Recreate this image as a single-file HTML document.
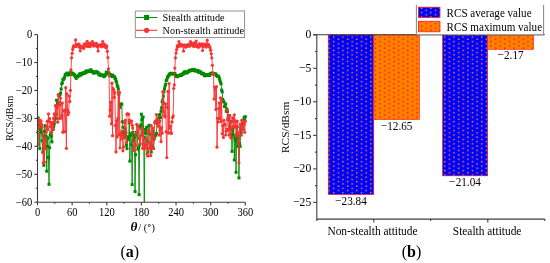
<!DOCTYPE html>
<html><head><meta charset="utf-8"><style>
html,body{margin:0;padding:0;background:#fff;}
body{width:550px;height:263px;overflow:hidden;}
svg{display:block;}
text{font-family:"Liberation Serif","Times New Roman",serif;fill:#000;stroke:none;}
.tl{font-size:10.5px;}
.tb{font-size:11.6px;}
.tv{font-size:11.2px;}
.lg{font-size:10.3px;}
.lg2{font-size:11.1px;}
</style></head><body>
<svg width="550" height="263" viewBox="0 0 550 263">
<defs>
<pattern id="pb" patternUnits="userSpaceOnUse" x="0" y="0" width="9.25" height="4.45">
<rect width="9.25" height="4.45" fill="#0000ff"/>
<rect x="4.6" y="3.0" width="1.5" height="1.4" fill="#ff8a10"/>
<rect x="-0.05" y="0.75" width="1.5" height="1.4" fill="#ff8a10"/>
<rect x="9.2" y="0.75" width="1.5" height="1.4" fill="#ff8a10"/>
</pattern>
<pattern id="po" patternUnits="userSpaceOnUse" x="0" y="0" width="9.25" height="4.45">
<rect width="9.25" height="4.45" fill="#ff8000"/>
<rect x="4.6" y="3.0" width="1.5" height="1.4" fill="#ff1a00"/>
<rect x="-0.05" y="0.75" width="1.5" height="1.4" fill="#ff1a00"/>
<rect x="9.2" y="0.75" width="1.5" height="1.4" fill="#ff1a00"/>
</pattern>
</defs>
<g id="leftplot">
<clipPath id="cl"><rect x="37.5" y="0" width="210.8" height="202.2"/></clipPath>
<g clip-path="url(#cl)">
<polyline points="37.50,118.40 38.08,117.84 38.65,122.03 39.23,125.66 39.81,148.57 40.39,129.01 40.96,124.55 41.54,132.37 42.12,140.75 42.70,152.20 43.27,135.16 43.85,165.33 44.43,131.25 45.00,125.66 45.58,140.75 46.16,136.28 46.74,171.19 47.31,146.33 47.89,137.95 48.47,157.51 49.04,184.32 49.62,147.73 50.20,135.16 50.78,132.37 51.35,136.28 51.93,141.86 52.51,123.15 53.09,129.57 53.66,126.78 54.24,123.99 54.82,118.40 55.39,118.27 55.97,114.54 56.55,100.24 57.13,105.55 57.70,104.20 58.28,103.19 58.86,95.74 59.43,95.03 60.01,94.34 60.59,93.06 61.17,88.91 61.74,83.92 62.32,82.70 62.90,79.47 63.48,79.32 64.05,78.63 64.63,77.04 65.21,74.67 65.78,74.33 66.36,74.21 66.94,73.12 67.52,74.27 68.09,74.94 68.67,74.72 69.25,74.41 69.82,72.98 70.40,72.69 70.98,74.45 71.56,73.02 72.13,73.19 72.71,73.52 73.29,74.21 73.87,74.34 74.44,74.91 75.02,76.41 75.60,76.70 76.17,78.41 76.75,77.02 77.33,76.67 77.91,75.88 78.48,75.29 79.06,76.04 79.64,74.00 80.21,74.98 80.79,73.45 81.37,74.74 81.95,73.38 82.52,73.71 83.10,72.92 83.68,73.03 84.25,73.32 84.83,73.02 85.41,72.16 85.99,70.95 86.56,72.05 87.14,71.85 87.72,71.56 88.30,70.87 88.87,71.12 89.45,71.49 90.03,70.39 90.60,69.99 91.18,70.15 91.76,71.71 92.34,71.63 92.91,71.95 93.49,73.14 94.07,71.96 94.65,72.24 95.22,72.93 95.80,71.82 96.38,72.03 96.95,72.17 97.53,72.36 98.11,72.58 98.69,74.42 99.26,74.70 99.84,73.98 100.42,75.27 100.99,75.38 101.57,75.37 102.15,74.92 102.73,75.29 103.30,75.65 103.88,76.71 104.46,76.18 105.04,75.23 105.61,74.73 106.19,72.80 106.77,72.00 107.34,73.04 107.92,72.25 108.50,73.21 109.08,73.15 109.65,74.82 110.23,74.57 110.81,75.30 111.38,75.93 111.96,76.42 112.54,75.07 113.12,76.14 113.69,76.59 114.27,76.46 114.85,78.02 115.42,78.78 116.00,80.95 116.58,82.18 117.16,85.13 117.73,86.56 118.31,88.89 118.89,94.45 119.47,104.43 120.04,107.44 120.62,104.57 121.20,103.95 121.77,104.27 122.35,121.82 122.93,127.20 123.51,132.58 124.08,134.90 124.66,136.43 125.24,129.00 125.81,132.53 126.39,145.21 126.97,148.64 127.55,139.47 128.12,136.72 128.70,137.29 129.28,122.68 129.86,161.14 130.43,133.70 131.01,135.16 131.59,144.92 132.16,184.60 132.74,132.33 133.32,140.75 133.90,135.31 134.47,137.72 135.05,191.59 135.63,154.71 136.21,132.35 136.78,135.16 137.36,132.74 137.94,149.13 138.51,147.73 139.09,194.66 139.67,144.94 140.25,126.78 140.82,124.94 141.40,114.21 141.98,119.71 142.55,132.37 143.13,117.00 143.71,132.72 144.29,207.79 144.86,137.86 145.44,129.57 146.02,133.34 146.60,127.23 147.17,141.10 147.75,152.12 148.33,131.00 148.90,125.66 149.48,125.29 150.06,134.14 150.64,147.92 151.21,152.11 151.79,146.05 152.37,135.01 152.94,131.08 153.52,148.32 154.10,139.03 154.68,136.83 155.25,135.02 155.83,135.19 156.41,133.42 156.99,123.14 157.56,121.31 158.14,118.61 158.72,121.88 159.29,115.33 159.87,114.44 160.45,117.53 161.03,111.11 161.60,107.82 162.18,101.84 162.76,99.99 163.33,96.24 163.91,91.91 164.49,88.82 165.07,86.11 165.64,84.33 166.22,80.56 166.80,80.00 167.38,77.83 167.95,76.46 168.53,75.74 169.11,74.97 169.68,74.16 170.26,73.50 170.84,73.65 171.42,73.18 171.99,73.78 172.57,73.59 173.15,73.82 173.72,73.94 174.30,73.75 174.88,73.48 175.46,75.23 176.03,76.35 176.61,76.23 177.19,76.71 177.77,76.03 178.34,75.62 178.92,75.49 179.50,75.72 180.07,75.18 180.65,74.99 181.23,75.48 181.81,74.49 182.38,74.11 182.96,73.89 183.54,73.81 184.11,72.22 184.69,72.11 185.27,71.80 185.85,72.58 186.42,73.06 187.00,72.61 187.58,71.90 188.16,71.82 188.73,71.50 189.31,70.40 189.89,70.23 190.46,70.86 191.04,70.55 191.62,70.40 192.20,69.59 192.77,70.15 193.35,69.97 193.93,69.43 194.50,69.80 195.08,70.71 195.66,71.00 196.24,70.74 196.81,70.51 197.39,70.30 197.97,71.02 198.55,72.33 199.12,71.16 199.70,71.64 200.28,71.94 200.85,72.32 201.43,73.57 202.01,73.76 202.59,73.62 203.16,73.22 203.74,73.91 204.32,75.52 204.89,75.82 205.47,75.31 206.05,74.65 206.63,74.97 207.20,75.12 207.78,75.43 208.36,75.15 208.94,74.62 209.51,75.50 210.09,74.13 210.67,73.44 211.24,73.61 211.82,73.15 212.40,73.15 212.98,73.81 213.55,73.89 214.13,74.06 214.71,73.84 215.28,74.25 215.86,74.06 216.44,75.64 217.02,75.67 217.59,76.31 218.17,76.57 218.75,76.34 219.32,78.30 219.90,80.35 220.48,82.22 221.06,83.84 221.63,90.07 222.21,91.86 222.79,99.47 223.37,101.41 223.94,101.95 224.52,106.36 225.10,106.45 225.67,103.99 226.25,111.25 226.83,108.94 227.41,111.53 227.98,119.66 228.56,119.34 229.14,115.61 229.72,126.78 230.29,122.03 230.87,129.57 231.45,134.60 232.02,151.36 232.60,129.57 233.18,135.16 233.76,126.78 234.33,160.02 234.91,137.95 235.49,140.75 236.06,172.31 236.64,135.16 237.22,126.78 237.80,146.33 238.37,137.95 238.95,177.90 239.53,143.54 240.11,146.33 240.68,129.57 241.26,132.37 241.84,126.78 242.41,122.59 242.99,120.08 243.57,123.99 244.15,117.28 244.72,119.80 245.30,116.72" fill="none" stroke="#008a00" stroke-width="0.9"/>
<g fill="#008a00"><rect x="36.00" y="116.90" width="3" height="3"/><rect x="36.58" y="116.34" width="3" height="3"/><rect x="37.15" y="120.53" width="3" height="3"/><rect x="37.73" y="124.16" width="3" height="3"/><rect x="38.31" y="147.07" width="3" height="3"/><rect x="38.89" y="127.51" width="3" height="3"/><rect x="39.46" y="123.05" width="3" height="3"/><rect x="40.04" y="130.87" width="3" height="3"/><rect x="40.62" y="139.25" width="3" height="3"/><rect x="41.20" y="150.70" width="3" height="3"/><rect x="41.77" y="133.66" width="3" height="3"/><rect x="42.35" y="163.83" width="3" height="3"/><rect x="42.93" y="129.75" width="3" height="3"/><rect x="43.50" y="124.16" width="3" height="3"/><rect x="44.08" y="139.25" width="3" height="3"/><rect x="44.66" y="134.78" width="3" height="3"/><rect x="45.24" y="169.69" width="3" height="3"/><rect x="45.81" y="144.83" width="3" height="3"/><rect x="46.39" y="136.45" width="3" height="3"/><rect x="46.97" y="156.01" width="3" height="3"/><rect x="47.54" y="182.82" width="3" height="3"/><rect x="48.12" y="146.23" width="3" height="3"/><rect x="48.70" y="133.66" width="3" height="3"/><rect x="49.28" y="130.87" width="3" height="3"/><rect x="49.85" y="134.78" width="3" height="3"/><rect x="50.43" y="140.36" width="3" height="3"/><rect x="51.01" y="121.65" width="3" height="3"/><rect x="51.59" y="128.07" width="3" height="3"/><rect x="52.16" y="125.28" width="3" height="3"/><rect x="52.74" y="122.49" width="3" height="3"/><rect x="53.32" y="116.90" width="3" height="3"/><rect x="53.89" y="116.77" width="3" height="3"/><rect x="54.47" y="113.04" width="3" height="3"/><rect x="55.05" y="98.74" width="3" height="3"/><rect x="55.63" y="104.05" width="3" height="3"/><rect x="56.20" y="102.70" width="3" height="3"/><rect x="56.78" y="101.69" width="3" height="3"/><rect x="57.36" y="94.24" width="3" height="3"/><rect x="57.93" y="93.53" width="3" height="3"/><rect x="58.51" y="92.84" width="3" height="3"/><rect x="59.09" y="91.56" width="3" height="3"/><rect x="59.67" y="87.41" width="3" height="3"/><rect x="60.24" y="82.42" width="3" height="3"/><rect x="60.82" y="81.20" width="3" height="3"/><rect x="61.40" y="77.97" width="3" height="3"/><rect x="61.98" y="77.82" width="3" height="3"/><rect x="62.55" y="77.13" width="3" height="3"/><rect x="63.13" y="75.54" width="3" height="3"/><rect x="63.71" y="73.17" width="3" height="3"/><rect x="64.28" y="72.83" width="3" height="3"/><rect x="64.86" y="72.71" width="3" height="3"/><rect x="65.44" y="71.62" width="3" height="3"/><rect x="66.02" y="72.77" width="3" height="3"/><rect x="66.59" y="73.44" width="3" height="3"/><rect x="67.17" y="73.22" width="3" height="3"/><rect x="67.75" y="72.91" width="3" height="3"/><rect x="68.32" y="71.48" width="3" height="3"/><rect x="68.90" y="71.19" width="3" height="3"/><rect x="69.48" y="72.95" width="3" height="3"/><rect x="70.06" y="71.52" width="3" height="3"/><rect x="70.63" y="71.69" width="3" height="3"/><rect x="71.21" y="72.02" width="3" height="3"/><rect x="71.79" y="72.71" width="3" height="3"/><rect x="72.37" y="72.84" width="3" height="3"/><rect x="72.94" y="73.41" width="3" height="3"/><rect x="73.52" y="74.91" width="3" height="3"/><rect x="74.10" y="75.20" width="3" height="3"/><rect x="74.67" y="76.91" width="3" height="3"/><rect x="75.25" y="75.52" width="3" height="3"/><rect x="75.83" y="75.17" width="3" height="3"/><rect x="76.41" y="74.38" width="3" height="3"/><rect x="76.98" y="73.79" width="3" height="3"/><rect x="77.56" y="74.54" width="3" height="3"/><rect x="78.14" y="72.50" width="3" height="3"/><rect x="78.71" y="73.48" width="3" height="3"/><rect x="79.29" y="71.95" width="3" height="3"/><rect x="79.87" y="73.24" width="3" height="3"/><rect x="80.45" y="71.88" width="3" height="3"/><rect x="81.02" y="72.21" width="3" height="3"/><rect x="81.60" y="71.42" width="3" height="3"/><rect x="82.18" y="71.53" width="3" height="3"/><rect x="82.75" y="71.82" width="3" height="3"/><rect x="83.33" y="71.52" width="3" height="3"/><rect x="83.91" y="70.66" width="3" height="3"/><rect x="84.49" y="69.45" width="3" height="3"/><rect x="85.06" y="70.55" width="3" height="3"/><rect x="85.64" y="70.35" width="3" height="3"/><rect x="86.22" y="70.06" width="3" height="3"/><rect x="86.80" y="69.37" width="3" height="3"/><rect x="87.37" y="69.62" width="3" height="3"/><rect x="87.95" y="69.99" width="3" height="3"/><rect x="88.53" y="68.89" width="3" height="3"/><rect x="89.10" y="68.49" width="3" height="3"/><rect x="89.68" y="68.65" width="3" height="3"/><rect x="90.26" y="70.21" width="3" height="3"/><rect x="90.84" y="70.13" width="3" height="3"/><rect x="91.41" y="70.45" width="3" height="3"/><rect x="91.99" y="71.64" width="3" height="3"/><rect x="92.57" y="70.46" width="3" height="3"/><rect x="93.15" y="70.74" width="3" height="3"/><rect x="93.72" y="71.43" width="3" height="3"/><rect x="94.30" y="70.32" width="3" height="3"/><rect x="94.88" y="70.53" width="3" height="3"/><rect x="95.45" y="70.67" width="3" height="3"/><rect x="96.03" y="70.86" width="3" height="3"/><rect x="96.61" y="71.08" width="3" height="3"/><rect x="97.19" y="72.92" width="3" height="3"/><rect x="97.76" y="73.20" width="3" height="3"/><rect x="98.34" y="72.48" width="3" height="3"/><rect x="98.92" y="73.77" width="3" height="3"/><rect x="99.49" y="73.88" width="3" height="3"/><rect x="100.07" y="73.87" width="3" height="3"/><rect x="100.65" y="73.42" width="3" height="3"/><rect x="101.23" y="73.79" width="3" height="3"/><rect x="101.80" y="74.15" width="3" height="3"/><rect x="102.38" y="75.21" width="3" height="3"/><rect x="102.96" y="74.68" width="3" height="3"/><rect x="103.54" y="73.73" width="3" height="3"/><rect x="104.11" y="73.23" width="3" height="3"/><rect x="104.69" y="71.30" width="3" height="3"/><rect x="105.27" y="70.50" width="3" height="3"/><rect x="105.84" y="71.54" width="3" height="3"/><rect x="106.42" y="70.75" width="3" height="3"/><rect x="107.00" y="71.71" width="3" height="3"/><rect x="107.58" y="71.65" width="3" height="3"/><rect x="108.15" y="73.32" width="3" height="3"/><rect x="108.73" y="73.07" width="3" height="3"/><rect x="109.31" y="73.80" width="3" height="3"/><rect x="109.88" y="74.43" width="3" height="3"/><rect x="110.46" y="74.92" width="3" height="3"/><rect x="111.04" y="73.57" width="3" height="3"/><rect x="111.62" y="74.64" width="3" height="3"/><rect x="112.19" y="75.09" width="3" height="3"/><rect x="112.77" y="74.96" width="3" height="3"/><rect x="113.35" y="76.52" width="3" height="3"/><rect x="113.92" y="77.28" width="3" height="3"/><rect x="114.50" y="79.45" width="3" height="3"/><rect x="115.08" y="80.68" width="3" height="3"/><rect x="115.66" y="83.63" width="3" height="3"/><rect x="116.23" y="85.06" width="3" height="3"/><rect x="116.81" y="87.39" width="3" height="3"/><rect x="117.39" y="92.95" width="3" height="3"/><rect x="117.97" y="102.93" width="3" height="3"/><rect x="118.54" y="105.94" width="3" height="3"/><rect x="119.12" y="103.07" width="3" height="3"/><rect x="119.70" y="102.45" width="3" height="3"/><rect x="120.27" y="102.77" width="3" height="3"/><rect x="120.85" y="120.32" width="3" height="3"/><rect x="121.43" y="125.70" width="3" height="3"/><rect x="122.01" y="131.08" width="3" height="3"/><rect x="122.58" y="133.40" width="3" height="3"/><rect x="123.16" y="134.93" width="3" height="3"/><rect x="123.74" y="127.50" width="3" height="3"/><rect x="124.31" y="131.03" width="3" height="3"/><rect x="124.89" y="143.71" width="3" height="3"/><rect x="125.47" y="147.14" width="3" height="3"/><rect x="126.05" y="137.97" width="3" height="3"/><rect x="126.62" y="135.22" width="3" height="3"/><rect x="127.20" y="135.79" width="3" height="3"/><rect x="127.78" y="121.18" width="3" height="3"/><rect x="128.36" y="159.64" width="3" height="3"/><rect x="128.93" y="132.20" width="3" height="3"/><rect x="129.51" y="133.66" width="3" height="3"/><rect x="130.09" y="143.42" width="3" height="3"/><rect x="130.66" y="183.10" width="3" height="3"/><rect x="131.24" y="130.83" width="3" height="3"/><rect x="131.82" y="139.25" width="3" height="3"/><rect x="132.40" y="133.81" width="3" height="3"/><rect x="132.97" y="136.22" width="3" height="3"/><rect x="133.55" y="190.09" width="3" height="3"/><rect x="134.13" y="153.21" width="3" height="3"/><rect x="134.71" y="130.85" width="3" height="3"/><rect x="135.28" y="133.66" width="3" height="3"/><rect x="135.86" y="131.24" width="3" height="3"/><rect x="136.44" y="147.63" width="3" height="3"/><rect x="137.01" y="146.23" width="3" height="3"/><rect x="137.59" y="193.16" width="3" height="3"/><rect x="138.17" y="143.44" width="3" height="3"/><rect x="138.75" y="125.28" width="3" height="3"/><rect x="139.32" y="123.44" width="3" height="3"/><rect x="139.90" y="112.71" width="3" height="3"/><rect x="140.48" y="118.21" width="3" height="3"/><rect x="141.05" y="130.87" width="3" height="3"/><rect x="141.63" y="115.50" width="3" height="3"/><rect x="142.21" y="131.22" width="3" height="3"/><rect x="142.79" y="206.29" width="3" height="3"/><rect x="143.36" y="136.36" width="3" height="3"/><rect x="143.94" y="128.07" width="3" height="3"/><rect x="144.52" y="131.84" width="3" height="3"/><rect x="145.10" y="125.73" width="3" height="3"/><rect x="145.67" y="139.60" width="3" height="3"/><rect x="146.25" y="150.62" width="3" height="3"/><rect x="146.83" y="129.50" width="3" height="3"/><rect x="147.40" y="124.16" width="3" height="3"/><rect x="147.98" y="123.79" width="3" height="3"/><rect x="148.56" y="132.64" width="3" height="3"/><rect x="149.14" y="146.42" width="3" height="3"/><rect x="149.71" y="150.61" width="3" height="3"/><rect x="150.29" y="144.55" width="3" height="3"/><rect x="150.87" y="133.51" width="3" height="3"/><rect x="151.44" y="129.58" width="3" height="3"/><rect x="152.02" y="146.82" width="3" height="3"/><rect x="152.60" y="137.53" width="3" height="3"/><rect x="153.18" y="135.33" width="3" height="3"/><rect x="153.75" y="133.52" width="3" height="3"/><rect x="154.33" y="133.69" width="3" height="3"/><rect x="154.91" y="131.92" width="3" height="3"/><rect x="155.49" y="121.64" width="3" height="3"/><rect x="156.06" y="119.81" width="3" height="3"/><rect x="156.64" y="117.11" width="3" height="3"/><rect x="157.22" y="120.38" width="3" height="3"/><rect x="157.79" y="113.83" width="3" height="3"/><rect x="158.37" y="112.94" width="3" height="3"/><rect x="158.95" y="116.03" width="3" height="3"/><rect x="159.53" y="109.61" width="3" height="3"/><rect x="160.10" y="106.32" width="3" height="3"/><rect x="160.68" y="100.34" width="3" height="3"/><rect x="161.26" y="98.49" width="3" height="3"/><rect x="161.83" y="94.74" width="3" height="3"/><rect x="162.41" y="90.41" width="3" height="3"/><rect x="162.99" y="87.32" width="3" height="3"/><rect x="163.57" y="84.61" width="3" height="3"/><rect x="164.14" y="82.83" width="3" height="3"/><rect x="164.72" y="79.06" width="3" height="3"/><rect x="165.30" y="78.50" width="3" height="3"/><rect x="165.88" y="76.33" width="3" height="3"/><rect x="166.45" y="74.96" width="3" height="3"/><rect x="167.03" y="74.24" width="3" height="3"/><rect x="167.61" y="73.47" width="3" height="3"/><rect x="168.18" y="72.66" width="3" height="3"/><rect x="168.76" y="72.00" width="3" height="3"/><rect x="169.34" y="72.15" width="3" height="3"/><rect x="169.92" y="71.68" width="3" height="3"/><rect x="170.49" y="72.28" width="3" height="3"/><rect x="171.07" y="72.09" width="3" height="3"/><rect x="171.65" y="72.32" width="3" height="3"/><rect x="172.22" y="72.44" width="3" height="3"/><rect x="172.80" y="72.25" width="3" height="3"/><rect x="173.38" y="71.98" width="3" height="3"/><rect x="173.96" y="73.73" width="3" height="3"/><rect x="174.53" y="74.85" width="3" height="3"/><rect x="175.11" y="74.73" width="3" height="3"/><rect x="175.69" y="75.21" width="3" height="3"/><rect x="176.27" y="74.53" width="3" height="3"/><rect x="176.84" y="74.12" width="3" height="3"/><rect x="177.42" y="73.99" width="3" height="3"/><rect x="178.00" y="74.22" width="3" height="3"/><rect x="178.57" y="73.68" width="3" height="3"/><rect x="179.15" y="73.49" width="3" height="3"/><rect x="179.73" y="73.98" width="3" height="3"/><rect x="180.31" y="72.99" width="3" height="3"/><rect x="180.88" y="72.61" width="3" height="3"/><rect x="181.46" y="72.39" width="3" height="3"/><rect x="182.04" y="72.31" width="3" height="3"/><rect x="182.61" y="70.72" width="3" height="3"/><rect x="183.19" y="70.61" width="3" height="3"/><rect x="183.77" y="70.30" width="3" height="3"/><rect x="184.35" y="71.08" width="3" height="3"/><rect x="184.92" y="71.56" width="3" height="3"/><rect x="185.50" y="71.11" width="3" height="3"/><rect x="186.08" y="70.40" width="3" height="3"/><rect x="186.66" y="70.32" width="3" height="3"/><rect x="187.23" y="70.00" width="3" height="3"/><rect x="187.81" y="68.90" width="3" height="3"/><rect x="188.39" y="68.73" width="3" height="3"/><rect x="188.96" y="69.36" width="3" height="3"/><rect x="189.54" y="69.05" width="3" height="3"/><rect x="190.12" y="68.90" width="3" height="3"/><rect x="190.70" y="68.09" width="3" height="3"/><rect x="191.27" y="68.65" width="3" height="3"/><rect x="191.85" y="68.47" width="3" height="3"/><rect x="192.43" y="67.93" width="3" height="3"/><rect x="193.00" y="68.30" width="3" height="3"/><rect x="193.58" y="69.21" width="3" height="3"/><rect x="194.16" y="69.50" width="3" height="3"/><rect x="194.74" y="69.24" width="3" height="3"/><rect x="195.31" y="69.01" width="3" height="3"/><rect x="195.89" y="68.80" width="3" height="3"/><rect x="196.47" y="69.52" width="3" height="3"/><rect x="197.05" y="70.83" width="3" height="3"/><rect x="197.62" y="69.66" width="3" height="3"/><rect x="198.20" y="70.14" width="3" height="3"/><rect x="198.78" y="70.44" width="3" height="3"/><rect x="199.35" y="70.82" width="3" height="3"/><rect x="199.93" y="72.07" width="3" height="3"/><rect x="200.51" y="72.26" width="3" height="3"/><rect x="201.09" y="72.12" width="3" height="3"/><rect x="201.66" y="71.72" width="3" height="3"/><rect x="202.24" y="72.41" width="3" height="3"/><rect x="202.82" y="74.02" width="3" height="3"/><rect x="203.39" y="74.32" width="3" height="3"/><rect x="203.97" y="73.81" width="3" height="3"/><rect x="204.55" y="73.15" width="3" height="3"/><rect x="205.13" y="73.47" width="3" height="3"/><rect x="205.70" y="73.62" width="3" height="3"/><rect x="206.28" y="73.93" width="3" height="3"/><rect x="206.86" y="73.65" width="3" height="3"/><rect x="207.44" y="73.12" width="3" height="3"/><rect x="208.01" y="74.00" width="3" height="3"/><rect x="208.59" y="72.63" width="3" height="3"/><rect x="209.17" y="71.94" width="3" height="3"/><rect x="209.74" y="72.11" width="3" height="3"/><rect x="210.32" y="71.65" width="3" height="3"/><rect x="210.90" y="71.65" width="3" height="3"/><rect x="211.48" y="72.31" width="3" height="3"/><rect x="212.05" y="72.39" width="3" height="3"/><rect x="212.63" y="72.56" width="3" height="3"/><rect x="213.21" y="72.34" width="3" height="3"/><rect x="213.78" y="72.75" width="3" height="3"/><rect x="214.36" y="72.56" width="3" height="3"/><rect x="214.94" y="74.14" width="3" height="3"/><rect x="215.52" y="74.17" width="3" height="3"/><rect x="216.09" y="74.81" width="3" height="3"/><rect x="216.67" y="75.07" width="3" height="3"/><rect x="217.25" y="74.84" width="3" height="3"/><rect x="217.82" y="76.80" width="3" height="3"/><rect x="218.40" y="78.85" width="3" height="3"/><rect x="218.98" y="80.72" width="3" height="3"/><rect x="219.56" y="82.34" width="3" height="3"/><rect x="220.13" y="88.57" width="3" height="3"/><rect x="220.71" y="90.36" width="3" height="3"/><rect x="221.29" y="97.97" width="3" height="3"/><rect x="221.87" y="99.91" width="3" height="3"/><rect x="222.44" y="100.45" width="3" height="3"/><rect x="223.02" y="104.86" width="3" height="3"/><rect x="223.60" y="104.95" width="3" height="3"/><rect x="224.17" y="102.49" width="3" height="3"/><rect x="224.75" y="109.75" width="3" height="3"/><rect x="225.33" y="107.44" width="3" height="3"/><rect x="225.91" y="110.03" width="3" height="3"/><rect x="226.48" y="118.16" width="3" height="3"/><rect x="227.06" y="117.84" width="3" height="3"/><rect x="227.64" y="114.11" width="3" height="3"/><rect x="228.22" y="125.28" width="3" height="3"/><rect x="228.79" y="120.53" width="3" height="3"/><rect x="229.37" y="128.07" width="3" height="3"/><rect x="229.95" y="133.10" width="3" height="3"/><rect x="230.52" y="149.86" width="3" height="3"/><rect x="231.10" y="128.07" width="3" height="3"/><rect x="231.68" y="133.66" width="3" height="3"/><rect x="232.26" y="125.28" width="3" height="3"/><rect x="232.83" y="158.52" width="3" height="3"/><rect x="233.41" y="136.45" width="3" height="3"/><rect x="233.99" y="139.25" width="3" height="3"/><rect x="234.56" y="170.81" width="3" height="3"/><rect x="235.14" y="133.66" width="3" height="3"/><rect x="235.72" y="125.28" width="3" height="3"/><rect x="236.30" y="144.83" width="3" height="3"/><rect x="236.87" y="136.45" width="3" height="3"/><rect x="237.45" y="176.40" width="3" height="3"/><rect x="238.03" y="142.04" width="3" height="3"/><rect x="238.61" y="144.83" width="3" height="3"/><rect x="239.18" y="128.07" width="3" height="3"/><rect x="239.76" y="130.87" width="3" height="3"/><rect x="240.34" y="125.28" width="3" height="3"/><rect x="240.91" y="121.09" width="3" height="3"/><rect x="241.49" y="118.58" width="3" height="3"/><rect x="242.07" y="122.49" width="3" height="3"/><rect x="242.65" y="115.78" width="3" height="3"/><rect x="243.22" y="118.30" width="3" height="3"/><rect x="243.80" y="115.22" width="3" height="3"/></g>
<polyline points="37.50,119.24 38.08,144.66 38.65,126.78 39.23,119.80 39.81,122.59 40.39,120.63 40.96,121.19 41.54,124.82 42.12,127.62 42.70,135.16 43.27,162.81 43.85,140.75 44.43,161.98 45.00,140.19 45.58,148.57 46.16,132.37 46.74,126.78 47.31,121.19 47.89,129.57 48.47,113.93 49.04,121.19 49.62,118.68 50.20,126.78 50.78,122.31 51.35,132.37 51.93,122.31 52.51,126.78 53.09,129.29 53.66,118.40 54.24,113.93 54.82,121.19 55.39,105.55 55.97,114.10 56.55,105.92 57.13,107.76 57.70,122.17 58.28,94.66 58.86,102.06 59.43,118.40 60.01,104.98 60.59,98.01 61.17,118.27 61.74,115.53 62.32,103.05 62.90,132.37 63.48,131.27 64.05,110.82 64.63,110.16 65.21,131.86 65.78,87.67 66.36,148.29 66.94,93.78 67.52,110.02 68.09,114.48 68.67,112.25 69.25,96.05 69.82,101.64 70.40,90.47 70.98,69.80 71.56,57.78 72.13,53.32 72.71,49.40 73.29,47.17 73.87,45.53 74.44,46.53 75.02,46.38 75.60,39.91 76.17,46.16 76.75,45.97 77.33,44.46 77.91,44.82 78.48,44.90 79.06,44.05 79.64,47.22 80.21,50.80 80.79,47.54 81.37,46.00 81.95,47.31 82.52,47.26 83.10,46.98 83.68,48.57 84.25,44.00 84.83,45.90 85.41,43.87 85.99,45.89 86.56,45.55 87.14,41.30 87.72,46.49 88.30,44.95 88.87,44.42 89.45,43.44 90.03,46.68 90.60,43.59 91.18,44.59 91.76,44.58 92.34,41.58 92.91,43.43 93.49,46.04 94.07,44.99 94.65,45.11 95.22,43.64 95.80,45.01 96.38,43.46 96.95,46.73 97.53,45.01 98.11,51.08 98.69,45.60 99.26,45.02 99.84,45.23 100.42,46.01 100.99,44.62 101.57,46.85 102.15,45.08 102.73,41.58 103.30,45.97 103.88,44.37 104.46,44.28 105.04,46.90 105.61,46.51 106.19,47.83 106.77,45.92 107.34,51.36 107.92,57.51 108.50,68.96 109.08,75.66 109.65,116.17 110.23,110.19 110.81,102.18 111.38,123.85 111.96,83.20 112.54,135.72 113.12,88.41 113.69,90.19 114.27,97.43 114.85,92.89 115.42,125.46 116.00,151.92 116.58,120.98 117.16,136.96 117.73,118.68 118.31,91.58 118.89,134.74 119.47,92.42 120.04,148.01 120.62,133.48 121.20,139.02 121.77,131.09 122.35,135.15 122.93,150.80 123.51,146.97 124.08,138.07 124.66,122.69 125.24,120.40 125.81,133.99 126.39,142.58 126.97,114.22 127.55,113.93 128.12,114.12 128.70,114.30 129.28,120.01 129.86,121.99 130.43,122.28 131.01,121.28 131.59,121.03 132.16,125.20 132.74,127.95 133.32,150.19 133.90,145.80 134.47,150.62 135.05,142.41 135.63,145.28 136.21,133.35 136.78,124.29 137.36,125.66 137.94,126.32 138.51,129.45 139.09,137.90 139.67,139.03 140.25,143.77 140.82,135.38 141.40,135.42 141.98,128.39 142.55,148.27 143.13,131.65 143.71,143.03 144.29,148.93 144.86,145.50 145.44,148.17 146.02,139.01 146.60,144.73 147.17,154.04 147.75,156.11 148.33,130.83 148.90,132.54 149.48,148.55 150.06,142.74 150.64,155.70 151.21,125.56 151.79,148.36 152.37,135.88 152.94,128.04 153.52,148.22 154.10,137.49 154.68,122.82 155.25,121.13 155.83,122.57 156.41,114.72 156.99,119.93 157.56,120.47 158.14,126.27 158.72,119.98 159.29,135.08 159.87,120.74 160.45,129.19 161.03,141.65 161.60,127.71 162.18,133.20 162.76,91.86 163.33,111.98 163.91,102.86 164.49,115.27 165.07,116.94 165.64,104.02 166.22,131.68 166.80,157.51 167.38,107.36 167.95,91.30 168.53,133.05 169.11,83.48 169.68,128.08 170.26,126.07 170.84,132.65 171.42,133.40 171.99,121.90 172.57,117.62 173.15,115.89 173.72,88.50 174.30,84.88 174.88,68.12 175.46,57.78 176.03,53.04 176.61,49.68 177.19,46.61 177.77,45.32 178.34,46.99 178.92,41.58 179.50,45.97 180.07,44.29 180.65,45.82 181.23,44.41 181.81,45.59 182.38,45.89 182.96,45.40 183.54,51.08 184.11,45.20 184.69,44.98 185.27,46.60 185.85,47.21 186.42,46.39 187.00,45.94 187.58,44.63 188.16,45.29 188.73,45.59 189.31,46.34 189.89,44.11 190.46,41.58 191.04,44.36 191.62,43.70 192.20,44.03 192.77,46.03 193.35,45.26 193.93,42.86 194.50,46.48 195.08,44.07 195.66,45.15 196.24,41.02 196.81,45.46 197.39,46.68 197.97,44.93 198.55,47.34 199.12,43.83 199.70,44.19 200.28,46.05 200.85,45.45 201.43,45.57 202.01,43.76 202.59,50.52 203.16,46.40 203.74,45.83 204.32,44.12 204.89,44.25 205.47,45.42 206.05,47.04 206.63,44.26 207.20,40.19 207.78,46.26 208.36,44.47 208.94,45.61 209.51,46.54 210.09,48.01 210.67,50.24 211.24,53.87 211.82,57.78 212.40,65.33 212.98,73.71 213.55,74.46 214.13,99.12 214.71,87.02 215.28,89.47 215.86,109.59 216.44,86.71 217.02,147.17 217.59,118.26 218.17,122.10 218.75,108.45 219.32,103.06 219.90,118.38 220.48,97.95 221.06,121.61 221.63,100.59 222.21,133.87 222.79,125.67 223.37,137.39 223.94,120.45 224.52,124.85 225.10,124.17 225.67,134.99 226.25,131.15 226.83,129.29 227.41,110.02 227.98,118.40 228.56,129.57 229.14,135.16 229.72,115.61 230.29,121.19 230.87,137.95 231.45,129.57 232.02,121.19 232.60,117.84 233.18,126.78 233.76,118.40 234.33,114.77 234.91,126.78 235.49,121.19 236.06,135.16 236.64,126.78 237.22,121.19 237.80,132.37 238.37,140.75 238.95,162.81 239.53,135.16 240.11,123.99 240.68,126.78 241.26,135.16 241.84,120.36 242.41,126.78 242.99,129.57 243.57,121.19 244.15,123.99 244.72,132.37 245.30,121.19" fill="none" stroke="#f83333" stroke-width="0.9"/>
<g fill="#f83333"><circle cx="37.50" cy="119.24" r="1.6"/><circle cx="38.08" cy="144.66" r="1.6"/><circle cx="38.65" cy="126.78" r="1.6"/><circle cx="39.23" cy="119.80" r="1.6"/><circle cx="39.81" cy="122.59" r="1.6"/><circle cx="40.39" cy="120.63" r="1.6"/><circle cx="40.96" cy="121.19" r="1.6"/><circle cx="41.54" cy="124.82" r="1.6"/><circle cx="42.12" cy="127.62" r="1.6"/><circle cx="42.70" cy="135.16" r="1.6"/><circle cx="43.27" cy="162.81" r="1.6"/><circle cx="43.85" cy="140.75" r="1.6"/><circle cx="44.43" cy="161.98" r="1.6"/><circle cx="45.00" cy="140.19" r="1.6"/><circle cx="45.58" cy="148.57" r="1.6"/><circle cx="46.16" cy="132.37" r="1.6"/><circle cx="46.74" cy="126.78" r="1.6"/><circle cx="47.31" cy="121.19" r="1.6"/><circle cx="47.89" cy="129.57" r="1.6"/><circle cx="48.47" cy="113.93" r="1.6"/><circle cx="49.04" cy="121.19" r="1.6"/><circle cx="49.62" cy="118.68" r="1.6"/><circle cx="50.20" cy="126.78" r="1.6"/><circle cx="50.78" cy="122.31" r="1.6"/><circle cx="51.35" cy="132.37" r="1.6"/><circle cx="51.93" cy="122.31" r="1.6"/><circle cx="52.51" cy="126.78" r="1.6"/><circle cx="53.09" cy="129.29" r="1.6"/><circle cx="53.66" cy="118.40" r="1.6"/><circle cx="54.24" cy="113.93" r="1.6"/><circle cx="54.82" cy="121.19" r="1.6"/><circle cx="55.39" cy="105.55" r="1.6"/><circle cx="55.97" cy="114.10" r="1.6"/><circle cx="56.55" cy="105.92" r="1.6"/><circle cx="57.13" cy="107.76" r="1.6"/><circle cx="57.70" cy="122.17" r="1.6"/><circle cx="58.28" cy="94.66" r="1.6"/><circle cx="58.86" cy="102.06" r="1.6"/><circle cx="59.43" cy="118.40" r="1.6"/><circle cx="60.01" cy="104.98" r="1.6"/><circle cx="60.59" cy="98.01" r="1.6"/><circle cx="61.17" cy="118.27" r="1.6"/><circle cx="61.74" cy="115.53" r="1.6"/><circle cx="62.32" cy="103.05" r="1.6"/><circle cx="62.90" cy="132.37" r="1.6"/><circle cx="63.48" cy="131.27" r="1.6"/><circle cx="64.05" cy="110.82" r="1.6"/><circle cx="64.63" cy="110.16" r="1.6"/><circle cx="65.21" cy="131.86" r="1.6"/><circle cx="65.78" cy="87.67" r="1.6"/><circle cx="66.36" cy="148.29" r="1.6"/><circle cx="66.94" cy="93.78" r="1.6"/><circle cx="67.52" cy="110.02" r="1.6"/><circle cx="68.09" cy="114.48" r="1.6"/><circle cx="68.67" cy="112.25" r="1.6"/><circle cx="69.25" cy="96.05" r="1.6"/><circle cx="69.82" cy="101.64" r="1.6"/><circle cx="70.40" cy="90.47" r="1.6"/><circle cx="70.98" cy="69.80" r="1.6"/><circle cx="71.56" cy="57.78" r="1.6"/><circle cx="72.13" cy="53.32" r="1.6"/><circle cx="72.71" cy="49.40" r="1.6"/><circle cx="73.29" cy="47.17" r="1.6"/><circle cx="73.87" cy="45.53" r="1.6"/><circle cx="74.44" cy="46.53" r="1.6"/><circle cx="75.02" cy="46.38" r="1.6"/><circle cx="75.60" cy="39.91" r="1.6"/><circle cx="76.17" cy="46.16" r="1.6"/><circle cx="76.75" cy="45.97" r="1.6"/><circle cx="77.33" cy="44.46" r="1.6"/><circle cx="77.91" cy="44.82" r="1.6"/><circle cx="78.48" cy="44.90" r="1.6"/><circle cx="79.06" cy="44.05" r="1.6"/><circle cx="79.64" cy="47.22" r="1.6"/><circle cx="80.21" cy="50.80" r="1.6"/><circle cx="80.79" cy="47.54" r="1.6"/><circle cx="81.37" cy="46.00" r="1.6"/><circle cx="81.95" cy="47.31" r="1.6"/><circle cx="82.52" cy="47.26" r="1.6"/><circle cx="83.10" cy="46.98" r="1.6"/><circle cx="83.68" cy="48.57" r="1.6"/><circle cx="84.25" cy="44.00" r="1.6"/><circle cx="84.83" cy="45.90" r="1.6"/><circle cx="85.41" cy="43.87" r="1.6"/><circle cx="85.99" cy="45.89" r="1.6"/><circle cx="86.56" cy="45.55" r="1.6"/><circle cx="87.14" cy="41.30" r="1.6"/><circle cx="87.72" cy="46.49" r="1.6"/><circle cx="88.30" cy="44.95" r="1.6"/><circle cx="88.87" cy="44.42" r="1.6"/><circle cx="89.45" cy="43.44" r="1.6"/><circle cx="90.03" cy="46.68" r="1.6"/><circle cx="90.60" cy="43.59" r="1.6"/><circle cx="91.18" cy="44.59" r="1.6"/><circle cx="91.76" cy="44.58" r="1.6"/><circle cx="92.34" cy="41.58" r="1.6"/><circle cx="92.91" cy="43.43" r="1.6"/><circle cx="93.49" cy="46.04" r="1.6"/><circle cx="94.07" cy="44.99" r="1.6"/><circle cx="94.65" cy="45.11" r="1.6"/><circle cx="95.22" cy="43.64" r="1.6"/><circle cx="95.80" cy="45.01" r="1.6"/><circle cx="96.38" cy="43.46" r="1.6"/><circle cx="96.95" cy="46.73" r="1.6"/><circle cx="97.53" cy="45.01" r="1.6"/><circle cx="98.11" cy="51.08" r="1.6"/><circle cx="98.69" cy="45.60" r="1.6"/><circle cx="99.26" cy="45.02" r="1.6"/><circle cx="99.84" cy="45.23" r="1.6"/><circle cx="100.42" cy="46.01" r="1.6"/><circle cx="100.99" cy="44.62" r="1.6"/><circle cx="101.57" cy="46.85" r="1.6"/><circle cx="102.15" cy="45.08" r="1.6"/><circle cx="102.73" cy="41.58" r="1.6"/><circle cx="103.30" cy="45.97" r="1.6"/><circle cx="103.88" cy="44.37" r="1.6"/><circle cx="104.46" cy="44.28" r="1.6"/><circle cx="105.04" cy="46.90" r="1.6"/><circle cx="105.61" cy="46.51" r="1.6"/><circle cx="106.19" cy="47.83" r="1.6"/><circle cx="106.77" cy="45.92" r="1.6"/><circle cx="107.34" cy="51.36" r="1.6"/><circle cx="107.92" cy="57.51" r="1.6"/><circle cx="108.50" cy="68.96" r="1.6"/><circle cx="109.08" cy="75.66" r="1.6"/><circle cx="109.65" cy="116.17" r="1.6"/><circle cx="110.23" cy="110.19" r="1.6"/><circle cx="110.81" cy="102.18" r="1.6"/><circle cx="111.38" cy="123.85" r="1.6"/><circle cx="111.96" cy="83.20" r="1.6"/><circle cx="112.54" cy="135.72" r="1.6"/><circle cx="113.12" cy="88.41" r="1.6"/><circle cx="113.69" cy="90.19" r="1.6"/><circle cx="114.27" cy="97.43" r="1.6"/><circle cx="114.85" cy="92.89" r="1.6"/><circle cx="115.42" cy="125.46" r="1.6"/><circle cx="116.00" cy="151.92" r="1.6"/><circle cx="116.58" cy="120.98" r="1.6"/><circle cx="117.16" cy="136.96" r="1.6"/><circle cx="117.73" cy="118.68" r="1.6"/><circle cx="118.31" cy="91.58" r="1.6"/><circle cx="118.89" cy="134.74" r="1.6"/><circle cx="119.47" cy="92.42" r="1.6"/><circle cx="120.04" cy="148.01" r="1.6"/><circle cx="120.62" cy="133.48" r="1.6"/><circle cx="121.20" cy="139.02" r="1.6"/><circle cx="121.77" cy="131.09" r="1.6"/><circle cx="122.35" cy="135.15" r="1.6"/><circle cx="122.93" cy="150.80" r="1.6"/><circle cx="123.51" cy="146.97" r="1.6"/><circle cx="124.08" cy="138.07" r="1.6"/><circle cx="124.66" cy="122.69" r="1.6"/><circle cx="125.24" cy="120.40" r="1.6"/><circle cx="125.81" cy="133.99" r="1.6"/><circle cx="126.39" cy="142.58" r="1.6"/><circle cx="126.97" cy="114.22" r="1.6"/><circle cx="127.55" cy="113.93" r="1.6"/><circle cx="128.12" cy="114.12" r="1.6"/><circle cx="128.70" cy="114.30" r="1.6"/><circle cx="129.28" cy="120.01" r="1.6"/><circle cx="129.86" cy="121.99" r="1.6"/><circle cx="130.43" cy="122.28" r="1.6"/><circle cx="131.01" cy="121.28" r="1.6"/><circle cx="131.59" cy="121.03" r="1.6"/><circle cx="132.16" cy="125.20" r="1.6"/><circle cx="132.74" cy="127.95" r="1.6"/><circle cx="133.32" cy="150.19" r="1.6"/><circle cx="133.90" cy="145.80" r="1.6"/><circle cx="134.47" cy="150.62" r="1.6"/><circle cx="135.05" cy="142.41" r="1.6"/><circle cx="135.63" cy="145.28" r="1.6"/><circle cx="136.21" cy="133.35" r="1.6"/><circle cx="136.78" cy="124.29" r="1.6"/><circle cx="137.36" cy="125.66" r="1.6"/><circle cx="137.94" cy="126.32" r="1.6"/><circle cx="138.51" cy="129.45" r="1.6"/><circle cx="139.09" cy="137.90" r="1.6"/><circle cx="139.67" cy="139.03" r="1.6"/><circle cx="140.25" cy="143.77" r="1.6"/><circle cx="140.82" cy="135.38" r="1.6"/><circle cx="141.40" cy="135.42" r="1.6"/><circle cx="141.98" cy="128.39" r="1.6"/><circle cx="142.55" cy="148.27" r="1.6"/><circle cx="143.13" cy="131.65" r="1.6"/><circle cx="143.71" cy="143.03" r="1.6"/><circle cx="144.29" cy="148.93" r="1.6"/><circle cx="144.86" cy="145.50" r="1.6"/><circle cx="145.44" cy="148.17" r="1.6"/><circle cx="146.02" cy="139.01" r="1.6"/><circle cx="146.60" cy="144.73" r="1.6"/><circle cx="147.17" cy="154.04" r="1.6"/><circle cx="147.75" cy="156.11" r="1.6"/><circle cx="148.33" cy="130.83" r="1.6"/><circle cx="148.90" cy="132.54" r="1.6"/><circle cx="149.48" cy="148.55" r="1.6"/><circle cx="150.06" cy="142.74" r="1.6"/><circle cx="150.64" cy="155.70" r="1.6"/><circle cx="151.21" cy="125.56" r="1.6"/><circle cx="151.79" cy="148.36" r="1.6"/><circle cx="152.37" cy="135.88" r="1.6"/><circle cx="152.94" cy="128.04" r="1.6"/><circle cx="153.52" cy="148.22" r="1.6"/><circle cx="154.10" cy="137.49" r="1.6"/><circle cx="154.68" cy="122.82" r="1.6"/><circle cx="155.25" cy="121.13" r="1.6"/><circle cx="155.83" cy="122.57" r="1.6"/><circle cx="156.41" cy="114.72" r="1.6"/><circle cx="156.99" cy="119.93" r="1.6"/><circle cx="157.56" cy="120.47" r="1.6"/><circle cx="158.14" cy="126.27" r="1.6"/><circle cx="158.72" cy="119.98" r="1.6"/><circle cx="159.29" cy="135.08" r="1.6"/><circle cx="159.87" cy="120.74" r="1.6"/><circle cx="160.45" cy="129.19" r="1.6"/><circle cx="161.03" cy="141.65" r="1.6"/><circle cx="161.60" cy="127.71" r="1.6"/><circle cx="162.18" cy="133.20" r="1.6"/><circle cx="162.76" cy="91.86" r="1.6"/><circle cx="163.33" cy="111.98" r="1.6"/><circle cx="163.91" cy="102.86" r="1.6"/><circle cx="164.49" cy="115.27" r="1.6"/><circle cx="165.07" cy="116.94" r="1.6"/><circle cx="165.64" cy="104.02" r="1.6"/><circle cx="166.22" cy="131.68" r="1.6"/><circle cx="166.80" cy="157.51" r="1.6"/><circle cx="167.38" cy="107.36" r="1.6"/><circle cx="167.95" cy="91.30" r="1.6"/><circle cx="168.53" cy="133.05" r="1.6"/><circle cx="169.11" cy="83.48" r="1.6"/><circle cx="169.68" cy="128.08" r="1.6"/><circle cx="170.26" cy="126.07" r="1.6"/><circle cx="170.84" cy="132.65" r="1.6"/><circle cx="171.42" cy="133.40" r="1.6"/><circle cx="171.99" cy="121.90" r="1.6"/><circle cx="172.57" cy="117.62" r="1.6"/><circle cx="173.15" cy="115.89" r="1.6"/><circle cx="173.72" cy="88.50" r="1.6"/><circle cx="174.30" cy="84.88" r="1.6"/><circle cx="174.88" cy="68.12" r="1.6"/><circle cx="175.46" cy="57.78" r="1.6"/><circle cx="176.03" cy="53.04" r="1.6"/><circle cx="176.61" cy="49.68" r="1.6"/><circle cx="177.19" cy="46.61" r="1.6"/><circle cx="177.77" cy="45.32" r="1.6"/><circle cx="178.34" cy="46.99" r="1.6"/><circle cx="178.92" cy="41.58" r="1.6"/><circle cx="179.50" cy="45.97" r="1.6"/><circle cx="180.07" cy="44.29" r="1.6"/><circle cx="180.65" cy="45.82" r="1.6"/><circle cx="181.23" cy="44.41" r="1.6"/><circle cx="181.81" cy="45.59" r="1.6"/><circle cx="182.38" cy="45.89" r="1.6"/><circle cx="182.96" cy="45.40" r="1.6"/><circle cx="183.54" cy="51.08" r="1.6"/><circle cx="184.11" cy="45.20" r="1.6"/><circle cx="184.69" cy="44.98" r="1.6"/><circle cx="185.27" cy="46.60" r="1.6"/><circle cx="185.85" cy="47.21" r="1.6"/><circle cx="186.42" cy="46.39" r="1.6"/><circle cx="187.00" cy="45.94" r="1.6"/><circle cx="187.58" cy="44.63" r="1.6"/><circle cx="188.16" cy="45.29" r="1.6"/><circle cx="188.73" cy="45.59" r="1.6"/><circle cx="189.31" cy="46.34" r="1.6"/><circle cx="189.89" cy="44.11" r="1.6"/><circle cx="190.46" cy="41.58" r="1.6"/><circle cx="191.04" cy="44.36" r="1.6"/><circle cx="191.62" cy="43.70" r="1.6"/><circle cx="192.20" cy="44.03" r="1.6"/><circle cx="192.77" cy="46.03" r="1.6"/><circle cx="193.35" cy="45.26" r="1.6"/><circle cx="193.93" cy="42.86" r="1.6"/><circle cx="194.50" cy="46.48" r="1.6"/><circle cx="195.08" cy="44.07" r="1.6"/><circle cx="195.66" cy="45.15" r="1.6"/><circle cx="196.24" cy="41.02" r="1.6"/><circle cx="196.81" cy="45.46" r="1.6"/><circle cx="197.39" cy="46.68" r="1.6"/><circle cx="197.97" cy="44.93" r="1.6"/><circle cx="198.55" cy="47.34" r="1.6"/><circle cx="199.12" cy="43.83" r="1.6"/><circle cx="199.70" cy="44.19" r="1.6"/><circle cx="200.28" cy="46.05" r="1.6"/><circle cx="200.85" cy="45.45" r="1.6"/><circle cx="201.43" cy="45.57" r="1.6"/><circle cx="202.01" cy="43.76" r="1.6"/><circle cx="202.59" cy="50.52" r="1.6"/><circle cx="203.16" cy="46.40" r="1.6"/><circle cx="203.74" cy="45.83" r="1.6"/><circle cx="204.32" cy="44.12" r="1.6"/><circle cx="204.89" cy="44.25" r="1.6"/><circle cx="205.47" cy="45.42" r="1.6"/><circle cx="206.05" cy="47.04" r="1.6"/><circle cx="206.63" cy="44.26" r="1.6"/><circle cx="207.20" cy="40.19" r="1.6"/><circle cx="207.78" cy="46.26" r="1.6"/><circle cx="208.36" cy="44.47" r="1.6"/><circle cx="208.94" cy="45.61" r="1.6"/><circle cx="209.51" cy="46.54" r="1.6"/><circle cx="210.09" cy="48.01" r="1.6"/><circle cx="210.67" cy="50.24" r="1.6"/><circle cx="211.24" cy="53.87" r="1.6"/><circle cx="211.82" cy="57.78" r="1.6"/><circle cx="212.40" cy="65.33" r="1.6"/><circle cx="212.98" cy="73.71" r="1.6"/><circle cx="213.55" cy="74.46" r="1.6"/><circle cx="214.13" cy="99.12" r="1.6"/><circle cx="214.71" cy="87.02" r="1.6"/><circle cx="215.28" cy="89.47" r="1.6"/><circle cx="215.86" cy="109.59" r="1.6"/><circle cx="216.44" cy="86.71" r="1.6"/><circle cx="217.02" cy="147.17" r="1.6"/><circle cx="217.59" cy="118.26" r="1.6"/><circle cx="218.17" cy="122.10" r="1.6"/><circle cx="218.75" cy="108.45" r="1.6"/><circle cx="219.32" cy="103.06" r="1.6"/><circle cx="219.90" cy="118.38" r="1.6"/><circle cx="220.48" cy="97.95" r="1.6"/><circle cx="221.06" cy="121.61" r="1.6"/><circle cx="221.63" cy="100.59" r="1.6"/><circle cx="222.21" cy="133.87" r="1.6"/><circle cx="222.79" cy="125.67" r="1.6"/><circle cx="223.37" cy="137.39" r="1.6"/><circle cx="223.94" cy="120.45" r="1.6"/><circle cx="224.52" cy="124.85" r="1.6"/><circle cx="225.10" cy="124.17" r="1.6"/><circle cx="225.67" cy="134.99" r="1.6"/><circle cx="226.25" cy="131.15" r="1.6"/><circle cx="226.83" cy="129.29" r="1.6"/><circle cx="227.41" cy="110.02" r="1.6"/><circle cx="227.98" cy="118.40" r="1.6"/><circle cx="228.56" cy="129.57" r="1.6"/><circle cx="229.14" cy="135.16" r="1.6"/><circle cx="229.72" cy="115.61" r="1.6"/><circle cx="230.29" cy="121.19" r="1.6"/><circle cx="230.87" cy="137.95" r="1.6"/><circle cx="231.45" cy="129.57" r="1.6"/><circle cx="232.02" cy="121.19" r="1.6"/><circle cx="232.60" cy="117.84" r="1.6"/><circle cx="233.18" cy="126.78" r="1.6"/><circle cx="233.76" cy="118.40" r="1.6"/><circle cx="234.33" cy="114.77" r="1.6"/><circle cx="234.91" cy="126.78" r="1.6"/><circle cx="235.49" cy="121.19" r="1.6"/><circle cx="236.06" cy="135.16" r="1.6"/><circle cx="236.64" cy="126.78" r="1.6"/><circle cx="237.22" cy="121.19" r="1.6"/><circle cx="237.80" cy="132.37" r="1.6"/><circle cx="238.37" cy="140.75" r="1.6"/><circle cx="238.95" cy="162.81" r="1.6"/><circle cx="239.53" cy="135.16" r="1.6"/><circle cx="240.11" cy="123.99" r="1.6"/><circle cx="240.68" cy="126.78" r="1.6"/><circle cx="241.26" cy="135.16" r="1.6"/><circle cx="241.84" cy="120.36" r="1.6"/><circle cx="242.41" cy="126.78" r="1.6"/><circle cx="242.99" cy="129.57" r="1.6"/><circle cx="243.57" cy="121.19" r="1.6"/><circle cx="244.15" cy="123.99" r="1.6"/><circle cx="244.72" cy="132.37" r="1.6"/><circle cx="245.30" cy="121.19" r="1.6"/></g>
</g>
<g stroke="#3c3c3c" stroke-width="1.1" fill="none">
<line x1="37.5" y1="34.6" x2="37.5" y2="202.2"/>
<line x1="37.5" y1="202.2" x2="245.3" y2="202.2"/>
<line x1="34.30" y1="34.60" x2="37.50" y2="34.60"/><text transform="translate(32.20,37.90) scale(1,1.1)" class="tl" text-anchor="end">0</text><line x1="34.30" y1="62.53" x2="37.50" y2="62.53"/><text transform="translate(32.20,65.83) scale(1,1.1)" class="tl" text-anchor="end">−10</text><line x1="34.30" y1="90.47" x2="37.50" y2="90.47"/><text transform="translate(32.20,93.77) scale(1,1.1)" class="tl" text-anchor="end">−20</text><line x1="34.30" y1="118.40" x2="37.50" y2="118.40"/><text transform="translate(32.20,121.70) scale(1,1.1)" class="tl" text-anchor="end">−30</text><line x1="34.30" y1="146.33" x2="37.50" y2="146.33"/><text transform="translate(32.20,149.63) scale(1,1.1)" class="tl" text-anchor="end">−40</text><line x1="34.30" y1="174.27" x2="37.50" y2="174.27"/><text transform="translate(32.20,177.57) scale(1,1.1)" class="tl" text-anchor="end">−50</text><line x1="34.30" y1="202.20" x2="37.50" y2="202.20"/><text transform="translate(32.20,205.50) scale(1,1.1)" class="tl" text-anchor="end">−60</text><line x1="35.90" y1="48.57" x2="37.50" y2="48.57"/><line x1="35.90" y1="76.50" x2="37.50" y2="76.50"/><line x1="35.90" y1="104.43" x2="37.50" y2="104.43"/><line x1="35.90" y1="132.37" x2="37.50" y2="132.37"/><line x1="35.90" y1="160.30" x2="37.50" y2="160.30"/><line x1="35.90" y1="188.23" x2="37.50" y2="188.23"/><line x1="37.50" y1="202.20" x2="37.50" y2="205.40"/><text transform="translate(37.50,215.50) scale(1,1.1)" class="tl" text-anchor="middle">0</text><line x1="72.13" y1="202.20" x2="72.13" y2="205.40"/><text transform="translate(72.13,215.50) scale(1,1.1)" class="tl" text-anchor="middle">60</text><line x1="106.77" y1="202.20" x2="106.77" y2="205.40"/><text transform="translate(106.77,215.50) scale(1,1.1)" class="tl" text-anchor="middle">120</text><line x1="141.40" y1="202.20" x2="141.40" y2="205.40"/><text transform="translate(141.40,215.50) scale(1,1.1)" class="tl" text-anchor="middle">180</text><line x1="176.03" y1="202.20" x2="176.03" y2="205.40"/><text transform="translate(176.03,215.50) scale(1,1.1)" class="tl" text-anchor="middle">240</text><line x1="210.67" y1="202.20" x2="210.67" y2="205.40"/><text transform="translate(210.67,215.50) scale(1,1.1)" class="tl" text-anchor="middle">300</text><line x1="245.30" y1="202.20" x2="245.30" y2="205.40"/><text transform="translate(245.30,215.50) scale(1,1.1)" class="tl" text-anchor="middle">360</text><line x1="54.82" y1="202.20" x2="54.82" y2="203.80"/><line x1="89.45" y1="202.20" x2="89.45" y2="203.80"/><line x1="124.08" y1="202.20" x2="124.08" y2="203.80"/><line x1="158.72" y1="202.20" x2="158.72" y2="203.80"/><line x1="193.35" y1="202.20" x2="193.35" y2="203.80"/><line x1="227.98" y1="202.20" x2="227.98" y2="203.80"/>
</g>
<text transform="translate(12.6,118.3) rotate(-90)" text-anchor="middle" style="font-size:10px">RCS/dBsm</text>
<text transform="translate(130.6,230.7) scale(1.26,1.1)" style="font-size:10.5px;font-style:italic;font-weight:bold">θ</text><text transform="translate(138.3,230.6) scale(1,1.1)" style="font-size:10.2px">/ (<tspan style="font-family:'DejaVu Serif';font-size:9px">°</tspan>)</text>
<text transform="translate(129.8,257) scale(1,1.1)" text-anchor="middle" style="font-size:16px">(<tspan style="font-weight:bold">a</tspan>)</text>
<!-- legend -->
<rect x="135.3" y="11.0" width="109.3" height="26.6" fill="#fff" stroke="#888" stroke-width="0.9"/>
<line x1="136" y1="17.5" x2="157.3" y2="17.5" stroke="#008a00" stroke-width="1.1"/>
<rect x="144.1" y="15" width="5" height="5" fill="#008a00"/>
<line x1="136" y1="30.3" x2="157.3" y2="30.3" stroke="#f83333" stroke-width="1.1"/>
<circle cx="146.6" cy="30.3" r="2.6" fill="#f83333"/>
<text transform="translate(162.6,21) scale(1,1.1)" class="lg">Stealth attitude</text>
<text transform="translate(162.6,33.8) scale(1,1.1)" class="lg">Non-stealth attitude</text>
</g>

<g id="rightplot">
<rect x="328.2" y="34.8" width="45.60" height="159.82" fill="url(#pb)" stroke="#ff1a1a" stroke-width="0.6"/><rect x="373.8" y="34.8" width="45.70" height="84.81" fill="url(#po)" stroke="#ff1a1a" stroke-width="0.6"/><rect x="442.5" y="34.8" width="45.20" height="141.05" fill="url(#pb)" stroke="#ff1a1a" stroke-width="0.6"/><rect x="487.7" y="34.8" width="45.90" height="14.55" fill="url(#po)" stroke="#ff1a1a" stroke-width="0.6"/>
<g stroke="#3c3c3c" stroke-width="1.1" fill="none">
<line x1="316.8" y1="34.8" x2="316.8" y2="219.1"/>
<line x1="316.8" y1="219.1" x2="544.8" y2="219.1"/>
<line x1="313.2" y1="34.8" x2="544.8" y2="34.8"/>
<line x1="313.20" y1="34.80" x2="316.80" y2="34.80"/><text transform="translate(311.20,38.30) scale(1,1.1)" class="tb" text-anchor="end">0</text><line x1="313.20" y1="68.32" x2="316.80" y2="68.32"/><text transform="translate(311.20,71.82) scale(1,1.1)" class="tb" text-anchor="end">−5</text><line x1="313.20" y1="101.84" x2="316.80" y2="101.84"/><text transform="translate(311.20,105.34) scale(1,1.1)" class="tb" text-anchor="end">−10</text><line x1="313.20" y1="135.36" x2="316.80" y2="135.36"/><text transform="translate(311.20,138.86) scale(1,1.1)" class="tb" text-anchor="end">−15</text><line x1="313.20" y1="168.88" x2="316.80" y2="168.88"/><text transform="translate(311.20,172.38) scale(1,1.1)" class="tb" text-anchor="end">−20</text><line x1="313.20" y1="202.40" x2="316.80" y2="202.40"/><text transform="translate(311.20,205.90) scale(1,1.1)" class="tb" text-anchor="end">−25</text><line x1="315.00" y1="51.56" x2="316.80" y2="51.56"/><line x1="315.00" y1="85.08" x2="316.80" y2="85.08"/><line x1="315.00" y1="118.60" x2="316.80" y2="118.60"/><line x1="315.00" y1="152.12" x2="316.80" y2="152.12"/><line x1="315.00" y1="185.64" x2="316.80" y2="185.64"/><line x1="373.8" y1="219.1" x2="373.8" y2="222.6"/><line x1="487.8" y1="219.1" x2="487.8" y2="222.6"/><line x1="316.8" y1="219.1" x2="316.8" y2="220.9"/><line x1="430.7" y1="219.1" x2="430.7" y2="220.9"/><line x1="544.8" y1="219.1" x2="544.8" y2="220.9"/>
</g>
<text transform="translate(351.00,204.62) scale(1,1.1)" class="tv" text-anchor="middle">−23.84</text><text transform="translate(396.65,129.61) scale(1,1.1)" class="tv" text-anchor="middle">−12.65</text><text transform="translate(465.10,185.85) scale(1,1.1)" class="tv" text-anchor="middle">−21.04</text><text transform="translate(510.65,59.35) scale(1,1.1)" class="tv" text-anchor="middle">−2.17</text>
<text transform="translate(288.9,127.4) rotate(-90)" text-anchor="middle" style="font-size:11.4px">RCS/dBsm</text>
<text transform="translate(372.5,234.6) scale(1,1.1)" text-anchor="middle" style="font-size:11.4px">Non-stealth attitude</text>
<text transform="translate(487.1,234.6) scale(1,1.1)" text-anchor="middle" style="font-size:11.4px">Stealth attitude</text>
<text transform="translate(411.5,257) scale(1,1.1)" text-anchor="middle" style="font-size:16px">(<tspan style="font-weight:bold">b</tspan>)</text>
<!-- legend -->
<rect x="416.4" y="4.8" width="127.2" height="30" fill="#fff"/><path d="M416.4,4.8V34.8H543.6V4.8" fill="none" stroke="#777" stroke-width="0.9"/>
<rect x="418.4" y="7.2" width="21.6" height="10.3" fill="url(#pb)" stroke="#ff1a1a" stroke-width="0.8"/>
<rect x="418.4" y="21.3" width="21.6" height="10.5" fill="url(#po)" stroke="#ff1a1a" stroke-width="0.8"/>
<text transform="translate(446.6,16.6) scale(1,1.1)" class="lg2">RCS average value</text>
<text transform="translate(446.6,30.7) scale(1,1.1)" class="lg2">RCS maximum value</text>
</g>
</svg>
</body></html>
